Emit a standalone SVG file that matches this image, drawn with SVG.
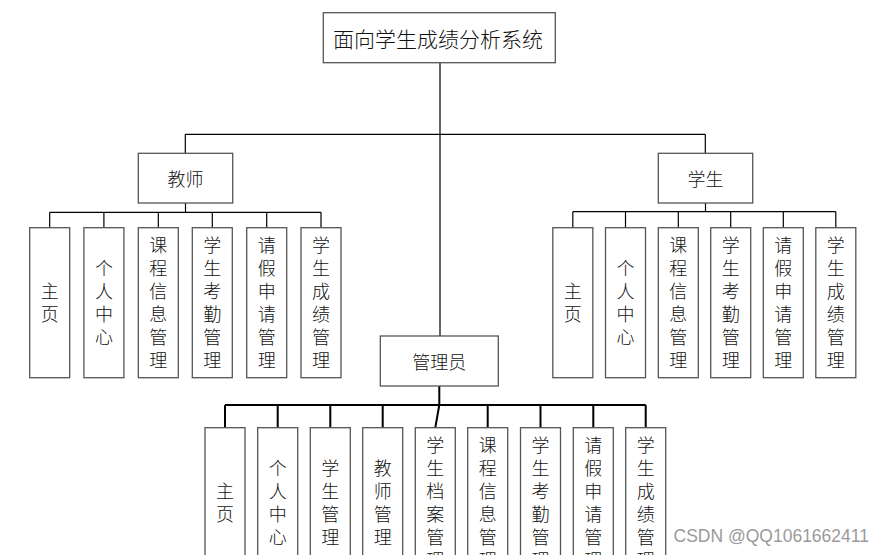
<svg xmlns="http://www.w3.org/2000/svg" width="886" height="555" viewBox="0 0 886 555">
<style>
.box{fill:#fff;stroke:#555;stroke-width:1.3}
.ln{fill:none;stroke:#000;stroke-width:1.2}
.ln2{fill:none;stroke:#000;stroke-width:2}
text{font-family:"Noto Sans CJK SC","Noto Sans",sans-serif;font-weight:300;fill:#111;text-anchor:middle;dominant-baseline:central}
.t18{font-size:18px}
.v{font-size:18px;writing-mode:vertical-rl;letter-spacing:5px}
.wm{font-family:"Liberation Sans",Arial,sans-serif;font-weight:400;font-size:17.5px;fill:#9a9a9a;text-anchor:start;dominant-baseline:alphabetic}
</style>
<rect width="886" height="555" fill="#fff"/>
<g id="connectors">
<path class="ln" d="M440,63V336M185.3,134.3H705.3M185.3,134.3V153.3M705.3,134.3V153.3"/>
<path class="ln" d="M185.5,203V212.3M49.7,212.3H321M49.7,212.3V227.7M103.9,212.3V227.7M158.3,212.3V227.7M212.3,212.3V227.7M266.7,212.3V227.7M321,212.3V227.7"/>
<path class="ln" d="M705.5,203V211.7M572.8,211.7H835.8M572.8,211.7V227.7M625.5,211.7V227.7M678.3,211.7V227.7M730.7,211.7V227.7M783.3,211.7V227.7M835.8,211.7V227.7"/>
<path class="ln2" d="M439.3,386V405M225,405H645.7M225,405V427.7M277.7,405V427.7M330.3,405V427.7M382.7,405V427.7M439.3,405L435.3,427.7M487.7,405V427.7M540.5,405V427.7M593.3,405V427.7M645.7,405V427.7"/>
</g>
<g id="root"><rect class="box" x="323.3" y="12.7" width="232" height="50"/><text x="438" y="38" style="font-size:21px">面向学生成绩分析系统</text></g>
<g id="teacher"><rect class="box" x="138.3" y="153.3" width="94.4" height="49.7"/><text class="t18" x="185.5" y="178">教师</text></g>
<g id="student"><rect class="box" x="658.3" y="153.3" width="94.4" height="49.7"/><text class="t18" x="705.5" y="178">学生</text></g>
<g id="admin"><rect class="box" x="380.3" y="336" width="118" height="50"/><text class="t18" x="439.3" y="361">管理员</text></g>

<g id="t1"><rect class="box" x="29.7" y="227.7" width="40" height="150"/><text class="v" x="49.7" y="305.2">主页</text></g>
<g id="t2"><rect class="box" x="83.9" y="227.7" width="40" height="150"/><text class="v" x="103.9" y="305.2">个人中心</text></g>
<g id="t3"><rect class="box" x="138.3" y="227.7" width="40" height="150"/><text class="v" x="158.3" y="305.2">课程信息管理</text></g>
<g id="t4"><rect class="box" x="192.3" y="227.7" width="40" height="150"/><text class="v" x="212.3" y="305.2">学生考勤管理</text></g>
<g id="t5"><rect class="box" x="246.7" y="227.7" width="40" height="150"/><text class="v" x="266.7" y="305.2">请假申请管理</text></g>
<g id="t6"><rect class="box" x="301" y="227.7" width="40" height="150"/><text class="v" x="321" y="305.2">学生成绩管理</text></g>

<g id="s1"><rect class="box" x="552.8" y="227.7" width="40" height="150"/><text class="v" x="572.8" y="305.2">主页</text></g>
<g id="s2"><rect class="box" x="605.5" y="227.7" width="40" height="150"/><text class="v" x="625.5" y="305.2">个人中心</text></g>
<g id="s3"><rect class="box" x="658.3" y="227.7" width="40" height="150"/><text class="v" x="678.3" y="305.2">课程信息管理</text></g>
<g id="s4"><rect class="box" x="710.7" y="227.7" width="40" height="150"/><text class="v" x="730.7" y="305.2">学生考勤管理</text></g>
<g id="s5"><rect class="box" x="763.3" y="227.7" width="40" height="150"/><text class="v" x="783.3" y="305.2">请假申请管理</text></g>
<g id="s6"><rect class="box" x="815.8" y="227.7" width="40" height="150"/><text class="v" x="835.8" y="305.2">学生成绩管理</text></g>

<g id="a1"><rect class="box" x="205" y="427.7" width="40" height="150"/><text class="v" x="225" y="505.2">主页</text></g>
<g id="a2"><rect class="box" x="257.7" y="427.7" width="40" height="150"/><text class="v" x="277.7" y="505.2">个人中心</text></g>
<g id="a3"><rect class="box" x="310.3" y="427.7" width="40" height="150"/><text class="v" x="330.3" y="505.2">学生管理</text></g>
<g id="a4"><rect class="box" x="362.7" y="427.7" width="40" height="150"/><text class="v" x="382.7" y="505.2">教师管理</text></g>
<g id="a5"><rect class="box" x="415.3" y="427.7" width="40" height="150"/><text class="v" x="435.3" y="505.2">学生档案管理</text></g>
<g id="a6"><rect class="box" x="467.7" y="427.7" width="40" height="150"/><text class="v" x="487.7" y="505.2">课程信息管理</text></g>
<g id="a7"><rect class="box" x="520.5" y="427.7" width="40" height="150"/><text class="v" x="540.5" y="505.2">学生考勤管理</text></g>
<g id="a8"><rect class="box" x="573.3" y="427.7" width="40" height="150"/><text class="v" x="593.3" y="505.2">请假申请管理</text></g>
<g id="a9"><rect class="box" x="625.7" y="427.7" width="40" height="150"/><text class="v" x="645.7" y="505.2">学生成绩管理</text></g>

<text class="wm" x="673.5" y="542">CSDN @QQ1061662411</text>
</svg>
